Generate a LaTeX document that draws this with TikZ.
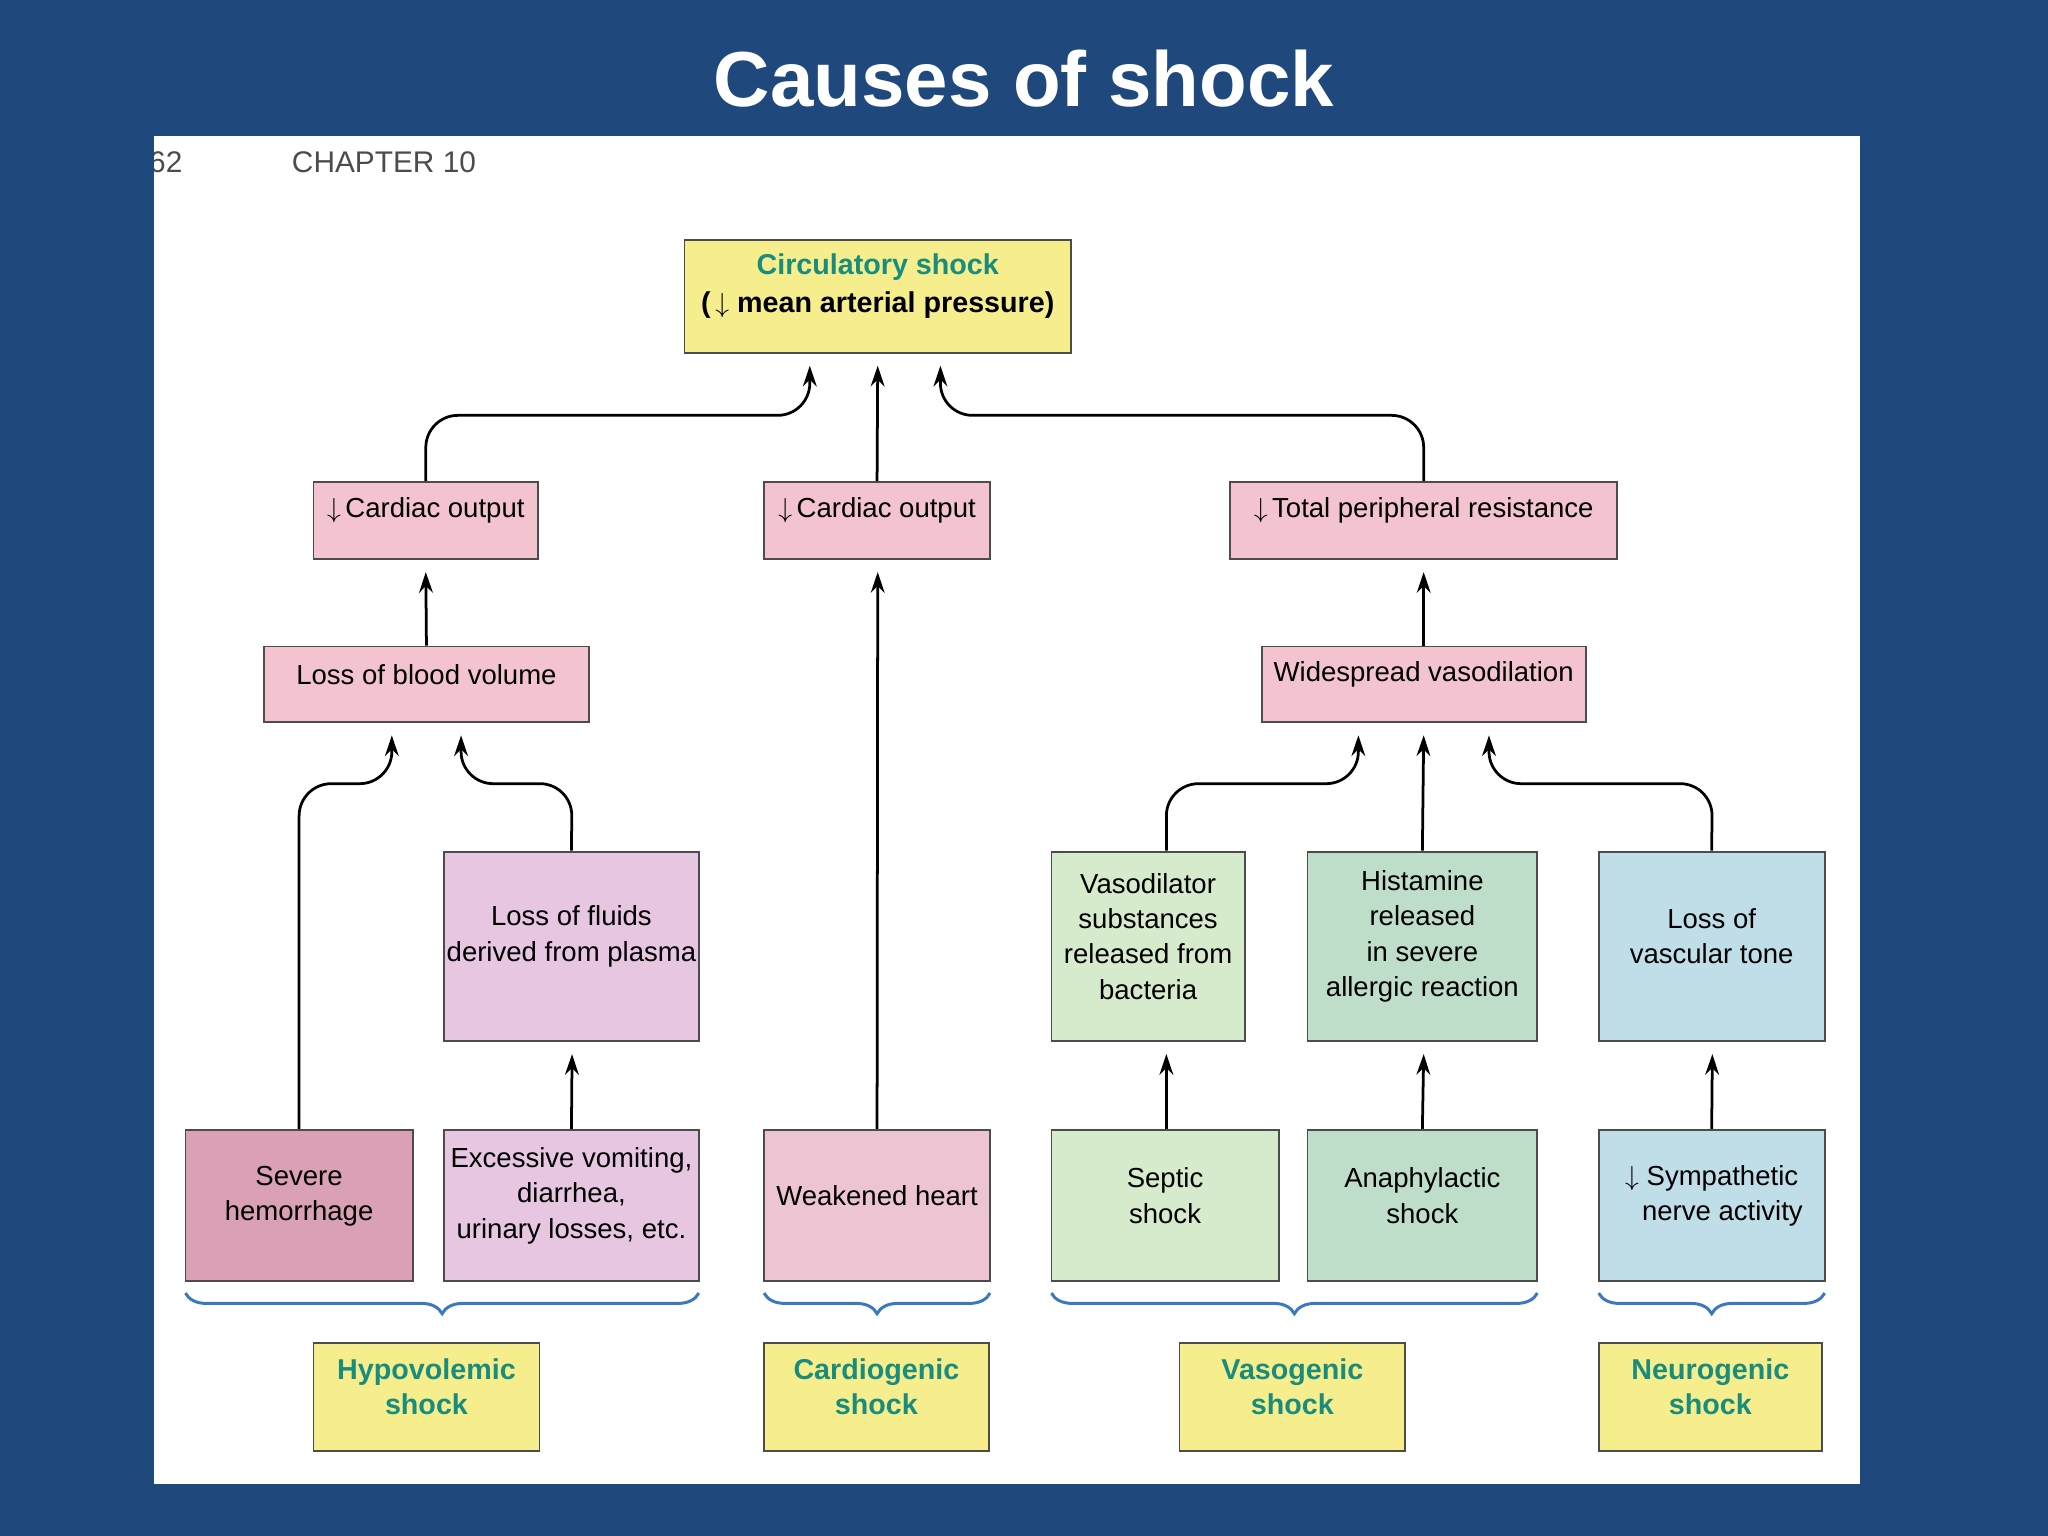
\documentclass[tikz,border=0pt]{standalone}
\usepackage{fontspec}
\setmainfont{Liberation Sans}
\usetikzlibrary{fit,arrows.meta,decorations.pathreplacing}
\definecolor{bgblue}{RGB}{31,73,125}
\definecolor{ylw}{RGB}{246,238,140}
\definecolor{pnk}{RGB}{243,196,208}
\definecolor{pur}{RGB}{230,198,224}
\definecolor{hem}{RGB}{217,160,182}
\definecolor{wkh}{RGB}{236,196,210}
\definecolor{grl}{RGB}{214,234,204}
\definecolor{grt}{RGB}{190,222,202}
\definecolor{blu}{RGB}{192,222,232}
\definecolor{teal}{RGB}{24,140,125}
\definecolor{brc}{RGB}{58,120,192}
\begin{document}
\begin{tikzpicture}[x=0.02cm,y=-0.02cm,
 box/.style={draw=black!70,line width=0.8pt,inner sep=0pt,align=left,font=\fontsize{12}{15.4}\selectfont},
 ybox/.style={box,fill=ylw,text=teal,font=\fontsize{12.5}{15.4}\selectfont\bfseries},
 arr/.style={-{Stealth[length=9pt,width=6pt]},line width=1.2pt,rounded corners=14pt},
 brace/.style={decorate,decoration={brace,amplitude=9pt,mirror},draw=brc,line width=1.3pt}]
\useasboundingbox (0,0) rectangle (1568,1176);
\fill[bgblue] (0,0) rectangle (1568,1176);
\fill[white] (118,104) rectangle (1424,1136);
\node[text=white,font=\fontsize{34}{40}\selectfont\bfseries] (title) at (784,60) {Causes of shock};
\begin{scope}
\clip (118,104) rectangle (1424,1136);
\node[text=black!70,font=\fontsize{13}{15}\selectfont\rmfamily,anchor=west] (pg) at (108,124) {62};
\end{scope}
\node[text=black!70,font=\fontsize{13}{15}\selectfont\rmfamily] (ch) at (294,124) {CHAPTER 10};

\node[ybox,fit={(524,184) (820,270)}] (circ) {Circulatory shock\\[1pt]\textcolor{black}{(\,$\downarrow$ mean arterial pressure)}};
\node[box,fill=pnk,fit={(240,369) (412,428)}] (co1) {$\downarrow$\,Cardiac output};
\node[box,fill=pnk,fit={(585,369) (758,428)}] (co2) {$\downarrow$\,Cardiac output};
\node[box,fill=pnk,fit={(942,369) (1238,428)}] (tpr) {$\downarrow$\,Total peripheral resistance};
\node[box,fill=pnk,fit={(202,495) (451,553)}] (lbv) {Loss of blood volume};
\node[box,fill=pnk,fit={(966,495) (1214,553)}] (wv) {Widespread vasodilation};
\node[box,fill=pur,fit={(340,652) (535,797)}] (lfp) {Loss of fluids\\derived from plasma};
\node[box,fill=grl,fit={(805,652) (953,797)}] (vas) {Vasodilator\\substances\\released from\\bacteria};
\node[box,fill=grt,fit={(1001,652) (1177,797)}] (hist) {Histamine\\released\\in severe\\allergic reaction};
\node[box,fill=blu,fit={(1224,652) (1397,797)}] (lvt) {Loss of\\vascular tone};
\node[box,fill=hem,fit={(142,865) (316,981)}] (sev) {Severe\\hemorrhage};
\node[box,fill=pur,fit={(340,865) (535,981)}] (evom) {Excessive vomiting,\\diarrhea,\\urinary losses, etc.};
\node[box,fill=wkh,fit={(585,865) (758,981)}] (weak) {Weakened heart};
\node[box,fill=grl,fit={(805,865) (979,981)}] (sept) {Septic\\shock};
\node[box,fill=grt,fit={(1001,865) (1177,981)}] (ana) {Anaphylactic\\shock};
\node[box,fill=blu,fit={(1224,865) (1397,981)}] (sym) {$\downarrow$ Sympathetic\\\phantom{$\downarrow$ }nerve activity};
\node[ybox,fit={(240,1028) (413,1111)}] (hyp) {Hypovolemic\\shock};
\node[ybox,fit={(585,1028) (757,1111)}] (card) {Cardiogenic\\shock};
\node[ybox,fit={(903,1028) (1076,1111)}] (vaso) {Vasogenic\\shock};
\node[ybox,fit={(1224,1028) (1395,1111)}] (neuro) {Neurogenic\\shock};

\draw[arr] (co1.north) -- (326,318) -- (620,318) -- (620,280);
\draw[arr] (co2.north) -- (672,280);
\draw[arr] (tpr.north) -- (1090,318) -- (720,318) -- (720,280);
\draw[arr] (lbv.north) -- (326,438);
\draw[arr] (weak.north) -- (672,438);
\draw[arr] (wv.north) -- (1090,438);
\draw[arr] (sev.north -| 229,0) -- (229,600) -- (300,600) -- (300,563);
\draw[arr] (lfp.north) -- (438,600) -- (353,600) -- (353,563);
\draw[arr] (evom.north) -- (438,807);
\draw[arr] (vas.north -| 893,0) -- (893,600) -- (1040,600) -- (1040,563);
\draw[arr] (hist.north) -- (1090,563);
\draw[arr] (lvt.north) -- (1311,600) -- (1140,600) -- (1140,563);
\draw[arr] (sept.north -| 893,0) -- (893,807);
\draw[arr] (ana.north) -- (1090,807);
\draw[arr] (sym.north) -- (1311,807);

\draw[brace] (142,990) -- (535,990);
\draw[brace] (585,990) -- (758,990);
\draw[brace] (805,990) -- (1177,990);
\draw[brace] (1224,990) -- (1397,990);
\end{tikzpicture}
\end{document}
